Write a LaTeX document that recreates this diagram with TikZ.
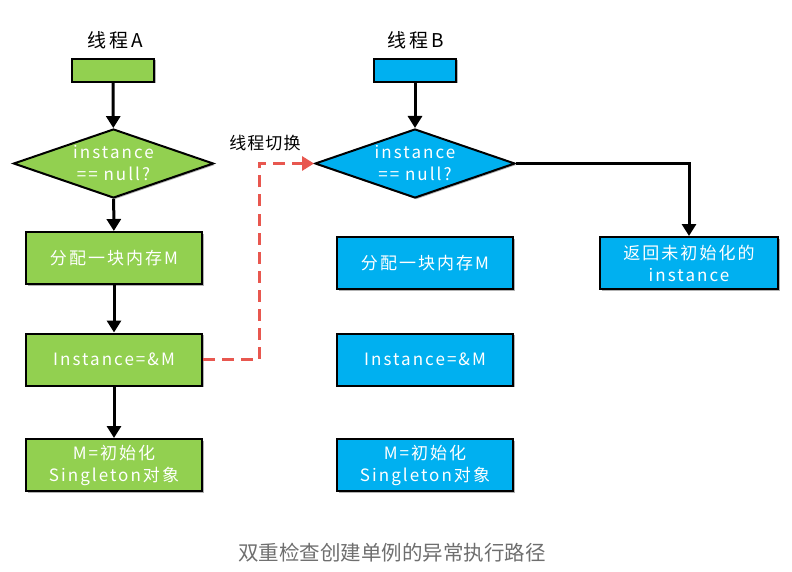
\documentclass[tikz,border=0pt]{standalone}
\usepackage{fontspec}
\setmainfont{Noto Sans CJK SC}
\usetikzlibrary{%
  arrows.meta,%
  shapes,%
  shapes.geometric,%
  shadows,%
  positioning,%
  calc%
}
\definecolor{greenA}{HTML}{92D050}
\definecolor{blueB}{HTML}{00B0F0}
\definecolor{switchred}{HTML}{E8574F}
\definecolor{captiongray}{HTML}{6E6E6E}
\newcommand{\boxfont}{\fontsize{17}{22}\selectfont\addfontfeatures{LetterSpace=12}}
\newcommand{\titlefont}{\fontsize{19}{22}\selectfont\addfontfeatures{LetterSpace=15}}

\begin{document}
\begin{tikzpicture}
  [
  x=1pt, y=-1pt,
  font=\boxfont,
  line width=2pt,
  >={Triangle[length=12pt,width=14pt]},
  shade/.style={drop shadow={shadow xshift=1.5pt, shadow yshift=-1.5pt, fill=black, opacity=0.3}},
  headbox/.style={rectangle, draw=black, inner sep=0pt, minimum width=82pt, minimum height=23pt, shade},
  stepbox/.style={rectangle, draw=black, inner sep=0pt, minimum width=176pt, minimum height=52pt, text=white, align=center, shade},
  checknode/.style={diamond, aspect=2.9, draw=black, inner sep=0pt, minimum width=200pt, minimum height=69pt, text=white, align=center, shade},
  flow/.style={->, line width=3pt, draw=black},
  switch/.style={->, line width=3pt, draw=switchred, dash pattern=on 12pt off 7pt},
  ]
\useasboundingbox (0,0) rectangle (792,572);

\node[font=\titlefont] (titleA) at (115,40) {线程A};
\node[headbox, fill=greenA] (headA) at (113,70.5) {};
\node[checknode, fill=greenA] (checkA) at (113.5,163.5) {instance\\== null?};
\node[stepbox, fill=greenA] (allocA) at (114,258) {分配一块内存M};
\node[stepbox, fill=greenA] (setA) at (114,359.5) {Instance=\&M};
\node[stepbox, fill=greenA] (initA) at (114,465) {M=初始化\\Singleton对象};

\node[font=\titlefont] (titleB) at (416,40) {线程B};
\node[headbox, fill=blueB] (headB) at (415,70.5) {};
\node[checknode, fill=blueB] (checkB) at (415,163.5) {instance\\== null?};
\node[stepbox, fill=blueB] (allocB) at (425,263) {分配一块内存M};
\node[stepbox, fill=blueB] (setB) at (425,359.5) {Instance=\&M};
\node[stepbox, fill=blueB] (initB) at (425,465) {M=初始化\\Singleton对象};
\node[stepbox, fill=blueB, minimum width=178pt] (retB) at (689,263) {返回未初始化的\\instance};

\draw[flow] (headA) -- (checkA);
\draw[flow] (checkA) -- (allocA);
\draw[flow] (allocA) -- (setA);
\draw[flow] (setA) -- (initA);
\draw[flow] (headB) -- (checkB);
\draw[flow] (checkB.east) -| (retB.north);

\draw[switch] (setA.east) -- ++(56,0) |- (checkB.west);
\node[font=\fontsize{17}{20}\selectfont\addfontfeatures{LetterSpace=6}] (switchlabel) at (265,143) {线程切换};

\node[text=captiongray, font=\fontsize{20.5}{24}\selectfont] (caption) at (392,553) {双重检查创建单例的异常执行路径};
\end{tikzpicture}
\end{document}
